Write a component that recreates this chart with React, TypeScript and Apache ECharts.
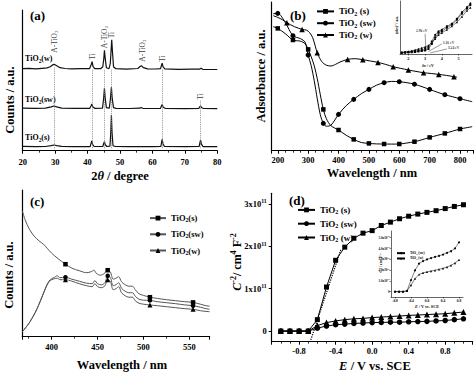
import React, { useEffect, useRef } from 'react';
import * as echarts from 'echarts';

const FONT = "'Liberation Serif', 'Times New Roman', serif";

// ---------------- Panel (a): XRD patterns (2θ, counts a.u.) ----------------
const xrdW: number[][] = [[20,82],[22,82.3],[24,81.8],[26,82.4],[27.5,82.8],[28.5,84],[29.3,86],[29.8,86.3],[30.5,85],[31.5,83],[33,82.2],[35,81.8],[38,82],[40.6,82],[41.1,86],[41.4,89],[41.7,84],[42.2,82],[44,82],[44.7,84],[45.0,92],[45.2,100.5],[45.45,92],[45.8,83],[46.6,82],[47.0,87],[47.25,100],[47.45,111],[47.7,98],[48.0,84],[48.7,82],[52,81.6],[55.5,82.2],[56.2,84.2],[56.6,85],[57.2,83],[58.5,81.8],[61,81.7],[62.5,82],[62.85,86],[63.0,87.5],[63.25,84],[63.8,81.8],[68,81.4],[72,81.5],[74.5,81.5],[75.0,82.5],[75.5,81.4],[80,81.2]];
const xrdSW: number[][] = [[20,42.5],[24,42.3],[27,42.6],[28.8,43.8],[29.6,44.7],[30.5,43.8],[32,42.6],[36,42.3],[40.7,42.4],[41.1,45],[41.3,46.7],[41.6,44],[42.2,42.4],[44.6,42.6],[44.95,52],[45.2,62.3],[45.45,52],[45.8,43],[46.7,42.5],[47.05,52],[47.35,63.3],[47.6,52],[48,43],[48.8,42.4],[53,42.2],[56.1,42.5],[56.5,43.3],[57,42.4],[60,42.2],[62.5,42.4],[62.8,45],[63.0,46.3],[63.3,43.6],[64,42.2],[70,42.1],[74.3,42.3],[74.65,44],[74.85,44.7],[75.2,43],[75.8,42.2],[80,42.1]];
const xrdS: number[][] = [[20,4.3],[24,4],[27,4.2],[28.8,5],[29.6,5.7],[30.5,5],[32,4.3],[36,4],[40.8,4.1],[41.1,7.5],[41.3,9.7],[41.55,6.5],[42,4.2],[44.7,4.2],[45.0,7.5],[45.2,9],[45.45,6],[45.9,4.2],[46.9,4.6],[47.15,18],[47.35,35.7],[47.55,18],[47.85,5],[48.6,4.2],[53,4],[56,4],[60,4.1],[62.6,4.2],[62.85,9],[63.0,11.3],[63.25,7],[63.7,4.2],[70,4],[74.4,4.2],[74.65,8],[74.85,10.7],[75.1,6.5],[75.6,4.1],[80,4]];
const xrdRefLines: number[][] = [[29.7, 83], [41.3, 81], [45.2, 81], [47.4, 81], [63.0, 81], [74.8, 50]];
const xrdPeakLabels: [string, number, number][] = [['A-TiO2', 29.9, 98], ['Ti', 41.4, 91], ['A-TiO2', 45.2, 102.5], ['Ti', 47.45, 112.5], ['A-TiO2', 57.0, 89], ['Ti', 63.0, 89], ['Ti', 74.8, 51]];
const xrdTraceLabels = ['TiO2(w)', 'TiO2(sw)', 'TiO2(s)'];

// ---------------- Panel (b): absorbance spectra ----------------
const bS: number[][] = [[185,124],[200,122.3],[225,117],[250,110.7],[275,109.5],[290,107],[300,101.3],[310,94],[320,85],[330,72],[340,56],[350,41.3],[360,32],[375,25],[400,20.7],[425,15.5],[450,11.3],[475,8.2],[500,7.3],[525,6.8],[550,6.7],[575,6.6],[600,6.7],[625,7.7],[650,9],[675,11],[700,13.3],[725,15.3],[750,17.3],[775,19.5],[800,21.7],[840,24]];
const bSW: number[][] = [[185,137],[200,137.3],[225,128],[250,115],[275,112],[290,108.5],[300,95.7],[310,85],[320,70],[330,52],[340,36],[350,27.3],[360,24.5],[375,25.5],[400,36.3],[425,45],[450,51.3],[475,57],[500,61.3],[525,65.5],[550,68],[575,69.3],[600,69],[625,68],[650,66.5],[675,64],[700,61.3],[725,58.5],[750,56],[775,54],[800,52],[840,49]];
const bW: number[][] = [[185,135],[200,133.3],[215,131],[230,128],[255,124],[280,121.3],[295,120.5],[305,118],[315,113],[330,98],[345,89],[360,85.5],[375,84.7],[390,86.3],[405,88.7],[430,91.3],[455,92],[480,91],[505,89.7],[530,88.3],[555,86.3],[580,84],[605,82.3],[630,80.7],[655,79.3],[680,78],[705,77.2],[730,76.3],[755,75.3],[780,74],[790,73.5]];
const bSMarks = [200,250,300,350,400,450,500,550,600,650,700,750,800];
const bSWMarks = [200,250,300,350,400,450,500,550,600,650,700,750,800];
const bWMarks = [230,280,330,380,430,480,530,580,630,680,730,780];
const bLegend = ['b|TiO2 (s)', 'b|TiO2 (sw)', 'b|TiO2 (w)'];

// inset of (b): (αhν)^2 vs hν
const bInS: number[][] = [[1.6,0.02],[1.8,0.025],[2.0,0.03],[2.2,0.035],[2.4,0.04],[2.6,0.05],[2.8,0.06],[3.0,0.07],[3.2,0.1],[3.4,0.2],[3.6,0.33],[3.8,0.42],[4.0,0.45],[4.3,0.52],[4.6,0.58],[4.9,0.68],[5.2,0.8],[5.5,0.9],[5.7,0.97]];
const bInSW: number[][] = [[1.6,0.03],[1.8,0.035],[2.0,0.04],[2.2,0.05],[2.4,0.06],[2.6,0.07],[2.8,0.08],[3.0,0.1],[3.2,0.14],[3.4,0.25],[3.6,0.38],[3.8,0.45],[4.0,0.48],[4.3,0.55],[4.6,0.6],[4.9,0.7],[5.2,0.83],[5.5,0.93],[5.7,1.0]];
const bInW: number[][] = [[1.6,0.03],[1.8,0.04],[2.0,0.05],[2.2,0.06],[2.4,0.08],[2.6,0.1],[2.8,0.12],[3.0,0.14],[3.2,0.17],[3.4,0.22],[3.6,0.3],[3.8,0.38],[4.0,0.42],[4.3,0.48],[4.6,0.55],[4.9,0.63],[5.2,0.74],[5.5,0.86],[5.7,0.92]];
const bInGapLines: number[][][] = [[[3.05,0.06],[3.0,0.4]], [[4.0,0.2],[3.2,0.05]], [[4.3,0.1],[3.3,0.02]]];
const bInGapLabels: [string, number, number][] = [['2.96 eV', 2.8, 0.46], ['3.16 eV', 4.4, 0.22], ['3.24 eV', 4.7, 0.11]];

// ---------------- Panel (c): PL spectra ----------------
const cS: number[][] = [[368,126],[371,117],[376,107],[381,100.5],[386,96],[391,92.5],[395,88.5],[400,83.5],[407,78],[415,72.5],[422,68.5],[430,66],[438,64],[443,65],[446,66.5],[449,63],[453,61.5],[457,63],[461,66.5],[464,64.5],[467,57.5],[470,58.5],[473,60],[476,55],[480,52],[484,50.5],[488,50.5],[491,47],[495,43],[500,41.3],[507,39.5],[515,38.3],[525,37],[535,36],[545,35],[554,34.3],[562,32.5],[568,31],[572,30.5]];
const cSW: number[][] = [[368,5],[370,7],[372,9.5],[375,13],[378,17.5],[382,24],[386,32],[390,41],[394,50],[397,55.5],[400,58],[403,59.3],[406,61],[409,59],[415,59.4],[422,57.5],[430,55.5],[438,53.5],[444,53],[447,56],[450,53],[454,51.8],[458,54],[461,61],[464,59],[467,51],[470,52],[473,54],[476,48.5],[480,45.5],[484,44],[488,44],[491,40.5],[495,37.5],[500,36.5],[507,36.3],[515,35],[525,34],[535,33],[545,31.8],[554,31],[562,29.5],[568,28],[572,27.5]];
const cW: number[][] = [[368,5],[370,7],[372,9.5],[375,13],[378,17.5],[382,24],[386,32],[390,41],[394,50],[397,55],[400,57],[403,58],[406,58.5],[409,57],[415,57],[422,55.5],[430,53],[438,51],[444,50],[447,53],[450,50],[454,49],[458,51],[461,57],[464,55],[467,47],[470,48],[473,50],[476,44],[480,41],[484,39.5],[488,39.5],[491,36],[495,33.5],[500,32.5],[507,31.7],[515,31],[525,30],[535,29],[545,28],[554,27.4],[562,26],[568,25.3],[572,25]];
const cMarks = [415, 461, 507, 554];
const cLegend = ['c|TiO2(s)', 'c|TiO2(sw)', 'c|TiO2(w)'];

// ---------------- Panel (d): Mott-Schottky ----------------
const dX = [-1.0,-0.9,-0.8,-0.7,-0.6,-0.5,-0.4,-0.3,-0.2,-0.1,0.0,0.1,0.2,0.3,0.4,0.5,0.6,0.7,0.8,0.9,1.0];
const dS = [0,0,0,0,0.27,1.04,1.67,1.98,2.19,2.31,2.37,2.49,2.57,2.65,2.71,2.76,2.80,2.84,2.89,2.94,2.98];
const dSW = [0,0,0,0,0.07,0.12,0.15,0.165,0.18,0.19,0.20,0.205,0.21,0.21,0.22,0.225,0.23,0.24,0.25,0.27,0.29];
const dW = [0,0,0,0,0.13,0.20,0.24,0.27,0.29,0.30,0.32,0.33,0.345,0.355,0.37,0.38,0.39,0.40,0.41,0.43,0.45];
const dFit: number[][] = [[-0.68,-0.26],[-0.34,1.94]];
const dLegend = ['d|TiO2 (s)', 'd|TiO2 (sw)', 'd|TiO2 (w)'];
// inset of (d)
const dInX = [-0.8,-0.7,-0.6,-0.5,-0.4,-0.3,-0.2,-0.1,0.0,0.1,0.2,0.3,0.4,0.5,0.6,0.7,0.8];
const dInSW = [0,0,0,0.06,1.06,1.97,2.58,2.82,2.97,3.1,3.2,3.3,3.42,3.58,3.73,4.0,4.55];
const dInW = [0,0,0,0.06,0.6,1.2,1.58,1.73,1.82,1.9,1.97,2.06,2.15,2.27,2.42,2.64,2.94];
const dInLegend = ['e|TiO2 (sw)', 'e|TiO2 (w)'];

function richSet(size: number) {
  const small = size * 0.68;
  return {
    sub: { fontSize: small, lineHeight: small, verticalAlign: 'bottom', fontFamily: FONT, fontWeight: 'bold', color: '#000', fill: '#000' },
    sup: { fontSize: small, lineHeight: small, verticalAlign: 'top', fontFamily: FONT, fontWeight: 'bold', color: '#000', fill: '#000' },
    i: { fontSize: size, fontStyle: 'italic', fontFamily: FONT, fontWeight: 'bold', color: '#000', fill: '#000' },
  };
}

const subTi = (s: string) => s.replace('TiO2', 'TiO{sub|2}');
const legendName = (n: string) => subTi(n.split('|')[1]);

function marked(curve: number[][], marks: number[]) {
  return curve.map(([x, y]) => (marks.includes(x) ? { value: [x, y] } : { value: [x, y], symbol: 'none' }));
}

function txt(x: number, y: number, text: string, size: number, rot = 0, align = 'center') {
  return {
    type: 'text', x, y, rotation: rot, silent: true,
    style: {
      text, fontFamily: FONT, fontWeight: 'bold', fontSize: size, fill: '#000',
      align, verticalAlign: 'middle', lineHeight: size * 1.3, rich: richSet(size),
    },
  };
}

const near = (v: number, step: number) => Math.abs(Math.round(v / step) * step - v) < 1e-6;
const black = { color: '#000', width: 1.2 };

function xAx(grid: number, min: number, max: number, step: number, fmt: (v: number) => string, size = 8.5, minorSplit = 0, margin = 4) {
  return {
    type: 'value', gridIndex: grid, min, max, minInterval: step, maxInterval: step,
    axisLine: { show: true, onZero: false, lineStyle: { ...black, width: size < 6 ? 0.6 : 1.2 } },
    axisTick: { show: true, inside: false, length: size < 6 ? 1.5 : 3, lineStyle: { ...black, width: size < 6 ? 0.5 : 1 } },
    minorTick: { show: minorSplit > 0, splitNumber: minorSplit || 5, length: 2, lineStyle: { color: '#000', width: 0.8 } },
    splitLine: { show: false },
    axisLabel: { show: true, formatter: fmt, showMinLabel: false, showMaxLabel: false, fontFamily: FONT, fontWeight: 'bold', fontSize: size, color: '#000', margin: size < 6 ? 1.5 : margin, lineHeight: size * 1.3, rich: richSet(size) },
  };
}

function yBlank(grid: number, min: number, max: number) {
  return {
    type: 'value', gridIndex: grid, min, max,
    axisLine: { show: true, onZero: false, lineStyle: black },
    axisTick: { show: false }, axisLabel: { show: false }, splitLine: { show: false },
  };
}

function buildOption() {
  const lineBase = (name: string, xi: number, data: any[], color: string, symbol: string, size: number, width = 1, smooth: any = false) => ({
    type: 'line', name, xAxisIndex: xi, yAxisIndex: xi, data, smooth, symbol, symbolSize: size, showSymbol: true,
    lineStyle: { color, width }, itemStyle: { color: '#000' }, silent: true, z: 3,
  });

  const series: any[] = [
    // (a)
    {
      type: 'line', name: 'xrd-w', xAxisIndex: 0, yAxisIndex: 0, data: xrdW, symbol: 'none', lineStyle: { color: '#111', width: 1.2 }, silent: true, z: 3,
      markLine: {
        silent: true, symbol: ['none', 'none'], label: { show: false }, animation: false,
        lineStyle: { type: 'dotted', color: '#888', width: 0.9 },
        data: xrdRefLines.map(([x, top]) => [{ coord: [x, top] }, { coord: [x, 1.5] }]),
      },
    },
    { type: 'line', name: 'xrd-sw', xAxisIndex: 0, yAxisIndex: 0, data: xrdSW, symbol: 'none', lineStyle: { color: '#111', width: 1.2 }, silent: true, z: 3 },
    { type: 'line', name: 'xrd-s', xAxisIndex: 0, yAxisIndex: 0, data: xrdS, symbol: 'none', lineStyle: { color: '#111', width: 1.2 }, silent: true, z: 3 },
    {
      type: 'scatter', name: 'xrd-labels', xAxisIndex: 0, yAxisIndex: 0, symbol: 'circle', symbolSize: 1, itemStyle: { color: 'transparent' }, silent: true,
      data: xrdPeakLabels.map(([n, x, y]) => ({ name: n, value: [x, y] })),
      label: { show: true, position: 'inside', rotate: 90, align: 'left', verticalAlign: 'middle', formatter: (p: any) => subTi(p.name), fontFamily: FONT, fontSize: 7.5, color: '#000', lineHeight: 9, rich: { sub: { fontSize: 5, lineHeight: 5, verticalAlign: 'bottom', fontFamily: FONT, color: '#000' } } },
    },
    // (b)
    lineBase(bLegend[0], 1, marked(bS, bSMarks), '#000', 'rect', 4.5, 1, 0.3),
    lineBase(bLegend[1], 1, marked(bSW, bSWMarks), '#000', 'circle', 5, 1, 0.3),
    lineBase(bLegend[2], 1, marked(bW, bWMarks), '#000', 'triangle', 5.5, 1, 0.3),
    // (c)
    lineBase(cLegend[0], 2, marked(cS, cMarks), '#555', 'rect', 4.5, 1, 0.3),
    lineBase(cLegend[1], 2, marked(cSW, cMarks), '#555', 'circle', 4.5, 1, 0.3),
    lineBase(cLegend[2], 2, marked(cW, cMarks), '#555', 'triangle', 5, 1, 0.3),
    // (d)
    lineBase(dLegend[0], 3, dX.map((x, i) => [x, dS[i]]), '#000', 'rect', 5, 1),
    lineBase(dLegend[1], 3, dX.map((x, i) => [x, dSW[i]]), '#000', 'circle', 5.5, 1),
    lineBase(dLegend[2], 3, dX.map((x, i) => [x, dW[i]]), '#000', 'triangle', 6, 1),
    { type: 'line', name: 'fit', xAxisIndex: 3, yAxisIndex: 3, data: dFit, symbol: 'none', lineStyle: { color: '#000', width: 1.2, type: 'dotted' }, silent: true, z: 2 },
    // (b) inset
    lineBase('bi|s', 4, bInS, '#000', 'rect', 2, 0.5),
    lineBase('bi|sw', 4, bInSW, '#000', 'circle', 2, 0.5),
    lineBase('bi|w', 4, bInW, '#000', 'triangle', 2.2, 0.5),
    ...bInGapLines.map((seg, k) => ({ type: 'line', name: 'gap' + k, xAxisIndex: 4, yAxisIndex: 4, data: seg, symbol: 'none', lineStyle: { color: '#000', width: 0.4 }, silent: true })),
    {
      type: 'scatter', name: 'gap-labels', xAxisIndex: 4, yAxisIndex: 4, symbolSize: 1, itemStyle: { color: 'transparent' }, silent: true,
      data: bInGapLabels.map(([n, x, y]) => ({ name: n, value: [x, y] })),
      label: { show: true, position: 'inside', formatter: (p: any) => p.name, fontFamily: FONT, fontWeight: 'bold', fontSize: 3.6, color: '#000' },
    },
    // (d) inset
    lineBase(dInLegend[0], 5, dInX.map((x, i) => [x, dInSW[i]]), '#000', 'circle', 2, 0.5),
    lineBase(dInLegend[1], 5, dInX.map((x, i) => [x, dInW[i]]), '#000', 'triangle', 2.2, 0.5),
  ];

  const legendText = (size: number) => ({ fontFamily: FONT, fontWeight: 'bold', fontSize: size, color: '#000', lineHeight: size * 1.2, rich: richSet(size) });

  const xa = xAx(0, 20, 80, 10, (v) => String(v), 8.5, 2, 6);
  const yd = xAx(3, -0.25, 3.25, 1, (v) => (near(v, 1) ? (Math.round(v) === 0 ? '0' : `${Math.round(v)}x10{sup|11}`) : ''), 8.5, 0, 5);
  const ydi = xAx(5, -0.5, 5.6, 1, (v) => (near(v, 1) ? (Math.round(v) === 0 ? '0' : `${Math.round(v)}.0x10{sup|10}`) : ''), 3.2);

  return {
    animation: false,
    backgroundColor: '#fff',
    grid: [
      { left: 22.7, top: 10, width: 194.6, height: 140.7 },
      { left: 271.7, top: 2, width: 202, height: 148.7 },
      { left: 22.3, top: 190, width: 187.3, height: 146.7 },
      { left: 271.7, top: 193.3, width: 200.9, height: 148.4 },
      { left: 400, top: 1, width: 72, height: 53 },
      { left: 391, top: 231, width: 72, height: 66 },
    ],
    xAxis: [
      { ...xa, minInterval: undefined, maxInterval: undefined, interval: 10, axisLabel: { ...xa.axisLabel, showMinLabel: true, showMaxLabel: true } },
      xAx(1, 180, 845, 100, (v) => (near(v, 100) ? String(v) : ''), 8.5, 4),
      xAx(2, 368, 572, 50, (v) => (near(v, 50) ? String(v) : ''), 8.5, 2, 5),
      xAx(3, -1.1, 1.1, 0.4, (v) => (near(v, 0.4) && Math.abs(v) < 1 ? v.toFixed(1) : ''), 8.5, 4),
      xAx(4, 1.5, 5.8, 1, (v) => (near(v, 1) ? String(Math.round(v)) : ''), 4.2),
      xAx(5, -0.9, 0.9, 0.4, (v) => (near(v, 0.4) && Math.abs(v) < 0.85 ? v.toFixed(1) : ''), 3.5),
    ],
    yAxis: [
      yBlank(0, 0, 140.7),
      yBlank(1, 0, 148.7),
      yBlank(2, 0, 146.7),
      { ...yd, minorTick: { show: false } },
      { ...yBlank(4, 0, 1.05), axisLine: { show: true, onZero: false, lineStyle: { color: '#000', width: 0.6 } } },
      { ...ydi, minorTick: { show: false } },
    ],
    legend: [
      { data: bLegend, orient: 'vertical', left: 316, top: 6, itemWidth: 17, itemHeight: 6, itemGap: 1, padding: 0, selectedMode: false, formatter: legendName, textStyle: legendText(9) },
      { data: cLegend, orient: 'vertical', left: 149, top: 213, itemWidth: 16, itemHeight: 6, itemGap: 6, padding: 0, selectedMode: false, formatter: legendName, textStyle: legendText(8.5) },
      { data: dLegend, orient: 'vertical', left: 297, top: 204.5, itemWidth: 17, itemHeight: 6, itemGap: 3, padding: 0, selectedMode: false, formatter: legendName, textStyle: legendText(9) },
      { data: dInLegend, orient: 'vertical', left: 396, top: 251, itemWidth: 8, itemHeight: 2.5, itemGap: 1, padding: 0, selectedMode: false, formatter: legendName, textStyle: legendText(3.6) },
    ],
    graphic: [
      txt(30, 15, '(a)', 13, 0, 'left'),
      txt(290, 15, '(b)', 13, 0, 'left'),
      txt(30, 201, '(c)', 13, 0, 'left'),
      txt(289, 200, '(d)', 13, 0, 'left'),
      txt(10, 100, 'Counts / a.u.', 12.5, Math.PI / 2),
      txt(120, 176, '2{i|θ} / degree', 12.5),
      txt(261, 76, 'Adsorbance / a.u.', 12.5, Math.PI / 2),
      txt(372, 173, 'Wavelength / nm', 12.5),
      txt(9, 275, 'Counts / a.u.', 12.5, Math.PI / 2),
      txt(122, 365, 'Wavelength / nm', 12.5),
      txt(237, 262, '{i|C}{sup|-2}/ cm{sup|4} F{sup|-2}', 12, Math.PI / 2),
      txt(375, 366, '{i|E} / V vs. SCE', 12.5),
      txt(25, 58, subTi(xrdTraceLabels[0]), 8, 0, 'left'),
      txt(25, 99, subTi(xrdTraceLabels[1]), 8, 0, 'left'),
      txt(25, 137, subTi(xrdTraceLabels[2]), 8, 0, 'left'),
      txt(428, 65, '{i|hν} / eV', 4),
      txt(396.5, 25, '(αhν){sup|2} / a.u.', 3.8, Math.PI / 2),
      txt(427, 306, '{i|E} / V vs. SCE', 4.2),
      txt(381, 263, '{i|C}{sup|-2} / cm{sup|4} F{sup|-2}', 3.8, Math.PI / 2),
    ],
    series,
  };
}

export default function App() {
  const ref = useRef<HTMLDivElement>(null);
  useEffect(() => {
    if (!ref.current) return;
    const chart = echarts.init(ref.current, null, { renderer: 'svg' });
    chart.setOption(buildOption() as any);
    return () => chart.dispose();
  }, []);
  return <div ref={ref} style={{ position: 'absolute', left: 0, top: 0, width: 474, height: 373, background: '#fff' }} />;
}
